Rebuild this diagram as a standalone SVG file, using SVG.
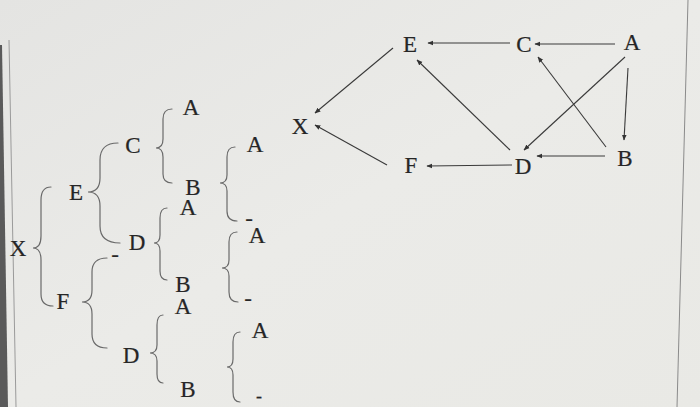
<svg xmlns="http://www.w3.org/2000/svg" width="700" height="407" viewBox="0 0 700 407">
<defs>
<style>
.t{font-family:"Liberation Serif","Times New Roman",serif;font-size:23px;fill:#262626;stroke:#262626;stroke-width:0.2;text-anchor:middle}
.br{fill:none;stroke:#6a6a6a;stroke-width:1.2;stroke-linecap:round}
.e{fill:none;stroke:#3a3a3a;stroke-width:1.1;marker-end:url(#ah)}
</style>
<marker id="ah" viewBox="0 0 10 10" refX="9" refY="5" markerWidth="6" markerHeight="6" markerUnits="userSpaceOnUse" orient="auto">
<path d="M0,1 L10,5 L0,9 z" fill="#333"/>
</marker>
<linearGradient id="bg" x1="0" y1="0" x2="1" y2="1">
<stop offset="0" stop-color="#e4e4e2"/>
<stop offset="0.5" stop-color="#ebebe8"/>
<stop offset="1" stop-color="#e9e9e5"/>
</linearGradient>
</defs>
<rect width="700" height="407" fill="url(#bg)"/>
<polygon points="0,45 2,45 8,407 0,407" fill="#5a5a5a"/>
<line x1="9" y1="40" x2="16" y2="407" stroke="#9a9a9a" stroke-width="1"/>
<line x1="688" y1="0" x2="677" y2="407" stroke="#8a8a8a" stroke-width="1"/>

<g id="tree">
<g id="t-X"><text class="t" x="18" y="256">X</text>
<path class="br" d="M51,187 Q41,187 41,200 L41,236 Q41,248 33,248 Q41,248 41,260 L41,294 Q41,306 53,306"/></g>
<g id="t-E"><text class="t" x="76" y="200">E</text>
<path class="br" d="M118,143 Q100,143 100,160 L100,178 Q100,192 88,192 Q100,192 100,206 L100,226 Q100,243 120,243"/></g>
<g id="t-F"><text class="t" x="63" y="309">F</text>
<path class="br" d="M107,258 Q92,258 92,272 L92,290 Q92,302 82,302 Q92,302 92,314 L92,334 Q92,348 107,348"/></g>
<g id="t-dash0"><text class="t" x="115" y="262">-</text></g>
<g id="t-C"><text class="t" x="133" y="153">C</text>
<path class="br" d="M172,109 Q163,109 163,119 L163,139 Q163,148 156,148 Q163,148 163,157 L163,174 Q163,183 172,183"/></g>
<g id="t-D1"><text class="t" x="137" y="250">D</text>
<path class="br" d="M167,208 Q160,208 160,218 L160,235 Q160,243 154,243 Q160,243 160,251 L160,271 Q160,280 167,280"/></g>
<g id="t-D2"><text class="t" x="131" y="363">D</text>
<path class="br" d="M163,315 Q157,315 157,325 L157,345 Q157,353 150,353 Q157,353 157,361 L157,374 Q157,383 163,383"/></g>
<text class="t" x="191" y="115">A</text>
<text class="t" x="193" y="195">B</text>
<text class="t" x="188" y="215">A</text>
<text class="t" x="183" y="292">B</text>
<text class="t" x="183" y="314">A</text>
<text class="t" x="188" y="397">B</text>
<g id="t-b1"><path class="br" d="M235,147 Q227,147 227,157 L227,175 Q227,183 220,183 Q227,183 227,191 L227,211 Q227,221 237,221"/>
<text class="t" x="255" y="152">A</text><text class="t" x="249" y="226">-</text></g>
<g id="t-b2"><path class="br" d="M237,232 Q229,232 229,242 L229,260 Q229,268 222,268 Q229,268 229,276 L229,292 Q229,302 238,302"/>
<text class="t" x="257" y="243">A</text><text class="t" x="248" y="306">-</text></g>
<g id="t-b3"><path class="br" d="M240,332 Q233,332 233,342 L233,359 Q233,367 227,367 Q233,367 233,375 L233,392 Q233,402 240,402"/>
<text class="t" x="260" y="338">A</text><text class="t" x="259" y="402" style="font-size:18px">-</text></g>
</g>

<g id="n-E"><text class="t" x="410" y="52">E</text></g>
<g id="n-C"><text class="t" x="524" y="52">C</text></g>
<g id="n-A"><text class="t" x="632" y="50">A</text></g>
<g id="n-X"><text class="t" x="300" y="134">X</text></g>
<g id="n-F"><text class="t" x="411" y="173">F</text></g>
<g id="n-D"><text class="t" x="523" y="174">D</text></g>
<g id="n-B"><text class="t" x="625" y="166">B</text></g>

<g id="connectors">
<line class="e" x1="510" y1="43" x2="428" y2="43"/>
<line class="e" x1="615" y1="44" x2="535" y2="44"/>
<line class="e" x1="628" y1="68" x2="624" y2="140"/>
<line class="e" x1="625" y1="57" x2="524" y2="150"/>
<line class="e" x1="606" y1="147" x2="538" y2="57"/>
<line class="e" x1="605" y1="156" x2="537" y2="156"/>
<line class="e" x1="510" y1="150" x2="417" y2="60"/>
<line class="e" x1="512" y1="165" x2="427" y2="166"/>
<line class="e" x1="393" y1="48" x2="315" y2="113"/>
<line class="e" x1="387" y1="165" x2="315" y2="125"/>
</g>
</svg>
